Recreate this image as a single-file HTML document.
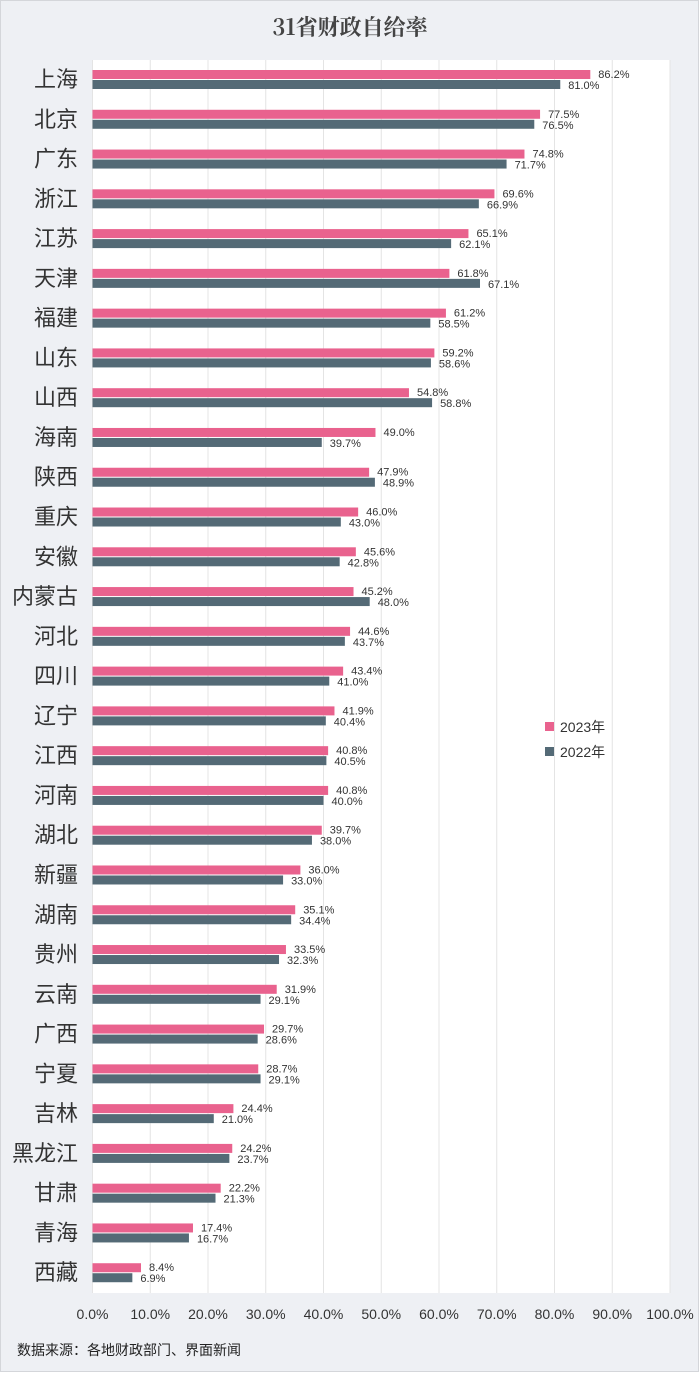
<!DOCTYPE html>
<html><head><meta charset="utf-8"><style>
html,body{margin:0;padding:0;background:#fff;}
svg{display:block;font-family:"Liberation Sans","Noto Sans CJK SC",sans-serif;}
</style></head><body>
<svg id="chart" width="700" height="1381" viewBox="0 0 700 1381">
<rect x="0.5" y="0.5" width="698" height="1371" fill="#eef0f4" stroke="#d4d6da"/>
<text x="350" y="35" text-anchor="middle" font-size="22" font-weight="bold" fill="#444" font-family="'Noto Serif CJK SC','Liberation Serif',serif">31省财政自给率</text>
<rect x="92.5" y="60" width="577.5" height="1233" fill="#fff"/>
<g id="grid"></g><g id="bars"></g><g id="labels"></g><g id="xticks"></g>
<rect x="545" y="722" width="9" height="9" fill="#e9628e"/>
<text x="560" y="732" font-size="14" fill="#333">2023年</text>
<rect x="545" y="747" width="9" height="9" fill="#546a76"/>
<text x="560" y="757" font-size="14" fill="#333">2022年</text>
<text x="17" y="1355" font-size="14" fill="#222">数据来源：各地财政部门、界面新闻</text>
</svg>
<script>
const categories=["上海","北京","广东","浙江","江苏","天津","福建","山东","山西","海南","陕西","重庆","安徽","内蒙古","河北","四川","辽宁","江西","河南","湖北","新疆","湖南","贵州","云南","广西","宁夏","吉林","黑龙江","甘肃","青海","西藏"];
const values2023=[86.2,77.5,74.8,69.6,65.1,61.8,61.2,59.2,54.8,49.0,47.9,46.0,45.6,45.2,44.6,43.4,41.9,40.8,40.8,39.7,36.0,35.1,33.5,31.9,29.7,28.7,24.4,24.2,22.2,17.4,8.4];
const values2022=[81.0,76.5,71.7,66.9,62.1,67.1,58.5,58.6,58.8,39.7,48.9,43.0,42.8,48.0,43.7,41.0,40.4,40.5,40.0,38.0,33.0,34.4,32.3,29.1,28.6,29.1,21.0,23.7,21.3,16.7,6.9];
const xTicks=[0,10,20,30,40,50,60,70,80,90,100];
const NS="http://www.w3.org/2000/svg";
const x0=92.5,x1=670,top0=60,bottom0=1293;
function xs(v){return x0+(x1-x0)*v/100;}
const step=(bottom0-top0)/categories.length;
function ys(i){return top0+step*i;}
function mk(tag,attrs,parent){const e=document.createElementNS(NS,tag);for(const k in attrs)e.setAttribute(k,attrs[k]);parent.appendChild(e);return e;}
const grid=document.getElementById('grid'),bars=document.getElementById('bars'),labels=document.getElementById('labels'),xt=document.getElementById('xticks');
xTicks.forEach(t=>{
  const l=mk('line',{x1:xs(t),x2:xs(t),y1:top0,y2:bottom0,stroke:'#e4e4e4','stroke-width':1},grid);
  
  
  const tx=mk('text',{x:xs(t),y:1319,'text-anchor':'middle','font-size':14,fill:'#333'},xt);
  tx.textContent=t.toFixed(1)+'%';
  
  
});
categories.forEach((c,i)=>{
  const y=ys(i);
  const cl=mk('text',{x:78,y:y+27,'text-anchor':'end','font-size':22,fill:'#333'},labels);
  cl.textContent=c;
  
  
  const b1=mk('rect',{x:x0,y:y+10,width:xs(values2023[i])-x0,height:9,fill:'#e9628e'},bars);
  
  
  const b2=mk('rect',{x:x0,y:y+20,width:xs(values2022[i])-x0,height:9,fill:'#546a76'},bars);
  
  
  const t1=mk('text',{x:xs(values2023[i])+8,y:y+18,'font-size':11,fill:'#333'},labels);
  t1.textContent=values2023[i].toFixed(1)+'%';
  
  
  const t2=mk('text',{x:xs(values2022[i])+8,y:y+29,'font-size':11,fill:'#333'},labels);
  t2.textContent=values2022[i].toFixed(1)+'%';
  
  
});
</script>
</body></html>
